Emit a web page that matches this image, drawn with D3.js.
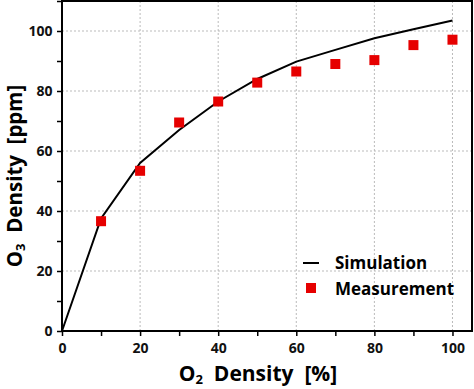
<!DOCTYPE html>
<html>
<head>
<meta charset="utf-8">
<script src="https://cdn.jsdelivr.net/npm/d3@7"></script>
<style>
  body { margin: 0; background: #fff; }
  svg { display: block; font-family: "Open Sans", sans-serif; font-weight: bold; }
</style>
</head>
<body>
<svg id="chart" width="474" height="389"></svg>
<script>
// 模拟曲线
const simX = [0, 10, 20, 30, 40, 50, 60, 70, 80, 90, 100]
const simY = [0, 37.5, 56, 67, 76.5, 84, 89.8, 93.7, 97.6, 100.6, 103.5]
// 测量点
const measX = [10, 20, 30, 40, 50, 60, 70, 80, 90, 100]
const measY = [36.6, 53.4, 69.5, 76.5, 82.8, 86.5, 89.0, 90.3, 95.3, 97.1]
const xTicks = [0, 20, 40, 60, 80, 100]
const yTicks = [0, 20, 40, 60, 80, 100]

const margin = { left: 62, right: 2, top: 1, bottom: 58 }
const width = 474, height = 389
const svg = d3.select('#chart')

const x = d3.scaleLinear().domain([0, 105]).range([margin.left, width - margin.right])
const y = d3.scaleLinear().domain([0, 110]).range([height - margin.bottom, margin.top])

// 网格
const grid = svg.append('g')
grid.selectAll('.gx').data(xTicks.slice(1)).join('line')
    .attr('x1', d => x(d)).attr('x2', d => x(d))
    .attr('y1', y.range()[0]).attr('y2', y.range()[1])
    .attr('stroke', '#bbb').attr('stroke-width', 1).attr('stroke-dasharray', '2,2')
grid.selectAll('.gy').data(yTicks.slice(1)).join('line')
    .attr('y1', d => y(d)).attr('y2', d => y(d))
    .attr('x1', x.range()[0]).attr('x2', x.range()[1])
    .attr('stroke', '#bbb').attr('stroke-width', 1).attr('stroke-dasharray', '2,2')

// 坐标轴
const xAxis = svg.append('g')
    .attr('transform', `translate(0,${y(0)})`)
    .call(d3.axisBottom(x).tickValues(d3.range(0, 101, 10)).tickSize(5).tickFormat(d => d % 20 === 0 ? d : ''))
const yAxis = svg.append('g')
    .attr('transform', `translate(${x(0)},0)`)
    .call(d3.axisLeft(y).tickValues(d3.range(0, 111, 10)).tickSize(5).tickFormat(d => d % 20 === 0 && d <= 100 ? d : ''))

;[xAxis, yAxis].forEach((g) => {
    g.select('.domain').remove()
    g.selectAll('line').attr('stroke', '#000').attr('stroke-width', 1.5)
    g.selectAll('text').attr('font-size', 14).attr('font-weight', 'bold')
        .attr('font-family', '"Open Sans", sans-serif').attr('fill', '#111')
})
xAxis.selectAll('text').attr('dy', '1.0em')
yAxis.selectAll('text').attr('dx', '-0.1em')

// 边框
svg.append('rect')
    .attr('x', x.range()[0]).attr('y', y.range()[1])
    .attr('width', x.range()[1] - x.range()[0])
    .attr('height', y.range()[0] - y.range()[1])
    .attr('fill', 'none').attr('stroke', '#000').attr('stroke-width', 2)

// 模拟曲线
const line = d3.line().x(d => x(d[0])).y(d => y(d[1]))
svg.append('path')
    .datum(d3.zip(simX, simY))
    .attr('d', line)
    .attr('fill', 'none').attr('stroke', '#000').attr('stroke-width', 2)

// 测量点
const ms = 10
svg.selectAll('.meas').data(d3.zip(measX, measY)).join('rect')
    .attr('x', d => x(d[0]) - ms / 2).attr('y', d => y(d[1]) - ms / 2)
    .attr('width', ms).attr('height', ms)
    .attr('fill', '#e60000')

// 图例
const lg = svg.append('g')
lg.append('line').attr('x1', 303).attr('x2', 319).attr('y1', 263).attr('y2', 263)
    .attr('stroke', '#000').attr('stroke-width', 2)
lg.append('text').attr('x', 335).attr('y', 269).attr('font-size', 17).text('Simulation')
lg.append('rect').attr('x', 306).attr('y', 283).attr('width', ms).attr('height', ms).attr('fill', '#e60000')
lg.append('text').attr('x', 335).attr('y', 295).attr('font-size', 17).text('Measurement')

// 轴标题
const xt = svg.append('text').attr('x', 258).attr('y', 381).attr('text-anchor', 'middle').attr('font-size', 21)
xt.append('tspan').text('O')
xt.append('tspan').attr('font-size', 13).attr('dy', 3).text('2')
xt.append('tspan').attr('dy', -3).text('  Density  [%]')

const yt = svg.append('text')
    .attr('transform', 'translate(22,176) rotate(-90)')
    .attr('text-anchor', 'middle').attr('font-size', 20.5)
yt.append('tspan').text('O')
yt.append('tspan').attr('font-size', 13).attr('dy', 3).text('3')
yt.append('tspan').attr('dy', -3).text('  Density  [ppm]')
svg.selectAll('text').style('white-space', 'pre')
</script>
</body>
</html>
